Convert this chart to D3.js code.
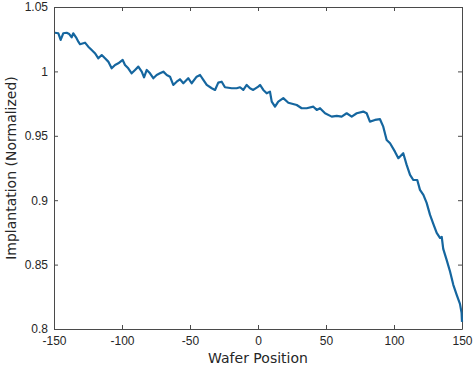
<!DOCTYPE html>
<html>
<head>
<meta charset="utf-8">
<script src="https://cdn.jsdelivr.net/npm/d3@7"></script>
<style>
  body { margin: 0; background: #fff; }
  svg { display: block; font-family: "DejaVu Sans", sans-serif; }
  .axis path, .axis line { stroke: #4a4a4a; }
  .axis text { fill: #262626; font-size: 12px; }
  .axis-label { fill: #262626; font-size: 14px; }
</style>
</head>
<body>
<div id="chart-area"><svg></svg></div>
<script>
const xTicks = [-150, -100, -50, 0, 50, 100, 150];
const yTicks = [0.8, 0.85, 0.9, 0.95, 1, 1.05];
const yTickLabels = ["0.8", "0.85", "0.9", "0.95", "1", "1.05"];

// wafer position (mm) and normalized implantation
const position = [
  -149.3, -146.8, -145.1, -143.2, -140.7, -138.8, -137.0, -135.8, -133.8, -132.1,
  -130.9, -127.2, -124.8, -122.3, -119.9, -117.4, -114.9, -112.5, -110.1, -107.6,
  -105.1, -102.7, -99.5, -97.8, -95.4, -92.9, -90.4, -88.0, -85.5, -83.8,
  -81.8, -79.4, -77.0, -74.5, -72.1, -69.6, -67.1, -64.7, -62.3, -59.8,
  -57.4, -54.9, -51.3, -48.8, -45.1, -42.6, -40.2, -37.7, -34.0, -31.6,
  -29.2, -26.7, -24.3, -19.3, -15.7, -13.2, -10.8, -8.3, -5.9, -3.5,
  0.2, 1.5, 3.9, 6.4, 8.8, 10.1, 12.5, 14.9, 18.6, 22.3,
  28.5, 32.1, 35.8, 40.7, 43.2, 45.6, 49.3, 54.2, 57.9, 61.5,
  65.2, 68.9, 72.6, 77.4, 79.9, 82.3, 86.0, 89.7, 92.1, 94.6,
  97.1, 100.7, 103.2, 106.8, 109.3, 111.8, 114.2, 117.1, 119.1, 121.6,
  124.0, 126.5, 128.9, 131.4, 133.8, 135.1, 136.2, 138.7, 141.2, 143.6,
  146.1, 148.5, 149.7, 150.0
];
const implantation = [
  1.030, 1.0296, 1.0244, 1.0296, 1.030, 1.029, 1.0265, 1.0296, 1.0265, 1.0231,
  1.0211, 1.0223, 1.0192, 1.0166, 1.0141, 1.0102, 1.0127, 1.0102, 1.0076, 1.0024,
  1.0050, 1.0063, 1.0089, 1.0050, 1.0024, 0.9985, 1.0011, 1.0037, 0.9998, 0.9954,
  1.0011, 0.9985, 0.9947, 0.9972, 0.9985, 0.9998, 0.9972, 0.9959, 0.9895, 0.9920,
  0.9939, 0.9908, 0.9947, 0.9908, 0.9959, 0.9972, 0.9934, 0.9895, 0.9869, 0.9856,
  0.9913, 0.9920, 0.9877, 0.9869, 0.9869, 0.9877, 0.9856, 0.9895, 0.9869, 0.9856,
  0.9882, 0.9895, 0.9856, 0.9830, 0.9843, 0.9765, 0.9726, 0.9765, 0.9792, 0.9757,
  0.9739, 0.9714, 0.9714, 0.9726, 0.9701, 0.9714, 0.9675, 0.9649, 0.9654, 0.9649,
  0.9675, 0.9649, 0.9675, 0.9688, 0.9675, 0.9610, 0.9623, 0.9629, 0.9571, 0.9468,
  0.9442, 0.9377, 0.9326, 0.9365, 0.9274, 0.9196, 0.9157, 0.9157, 0.9080, 0.9041,
  0.8979, 0.8886, 0.8816, 0.8746, 0.8707, 0.8715, 0.8622, 0.8537, 0.8446, 0.8343,
  0.8265, 0.8195, 0.8125, 0.8055
];

const chartSize = { width: 474, height: 367 };
const margin = { left: 54, right: 12, top: 7, bottom: 38 };
const width = chartSize.width - margin.left - margin.right;
const height = chartSize.height - margin.top - margin.bottom;

const svg = d3.select("#chart-area svg")
  .attr("width", chartSize.width)
  .attr("height", chartSize.height);
const g = svg.append("g")
  .attr("transform", `translate(${margin.left},${margin.top})`);

const x = d3.scaleLinear().domain([-150, 150]).range([0, width]);
const y = d3.scaleLinear().domain([0.8, 1.05]).range([height, 0]);

// bottom / left axes with labels, ticks pointing inward
g.append("g")
  .attr("class", "axis")
  .attr("transform", `translate(0,${height})`)
  .call(d3.axisBottom(x).tickValues(xTicks).tickFormat(d => String(d))
    .tickSizeInner(-4).tickSizeOuter(0).tickPadding(6))
  .call(a => a.selectAll("text").attr("dy", "0.85em"));
g.append("g")
  .attr("class", "axis")
  .call(d3.axisLeft(y).tickValues(yTicks).tickFormat((d, i) => yTickLabels[i])
    .tickSizeInner(-4).tickSizeOuter(0).tickPadding(6));

// top / right axes, ticks only
g.append("g")
  .attr("class", "axis")
  .call(d3.axisTop(x).tickValues(xTicks).tickSizeInner(-4).tickSizeOuter(0).tickFormat(""));
g.append("g")
  .attr("class", "axis")
  .attr("transform", `translate(${width},0)`)
  .call(d3.axisRight(y).tickValues(yTicks).tickSizeInner(-4).tickSizeOuter(0).tickFormat(""));

const line = d3.line()
  .x((d, i) => x(position[i]))
  .y(d => y(d));
g.append("path")
  .attr("fill", "none")
  .attr("stroke", "#15669f")
  .attr("stroke-width", 2.2)
  .attr("stroke-linejoin", "round")
  .attr("d", line(implantation));

g.append("text")
  .attr("class", "axis-label")
  .attr("text-anchor", "middle")
  .attr("x", width / 2)
  .attr("y", height + 34)
  .text("Wafer Position");
g.append("text")
  .attr("class", "axis-label")
  .attr("text-anchor", "middle")
  .attr("transform", "rotate(-90)")
  .attr("x", -height / 2)
  .attr("y", -38)
  .text("Implantation (Normalized)");
</script>
</body>
</html>
